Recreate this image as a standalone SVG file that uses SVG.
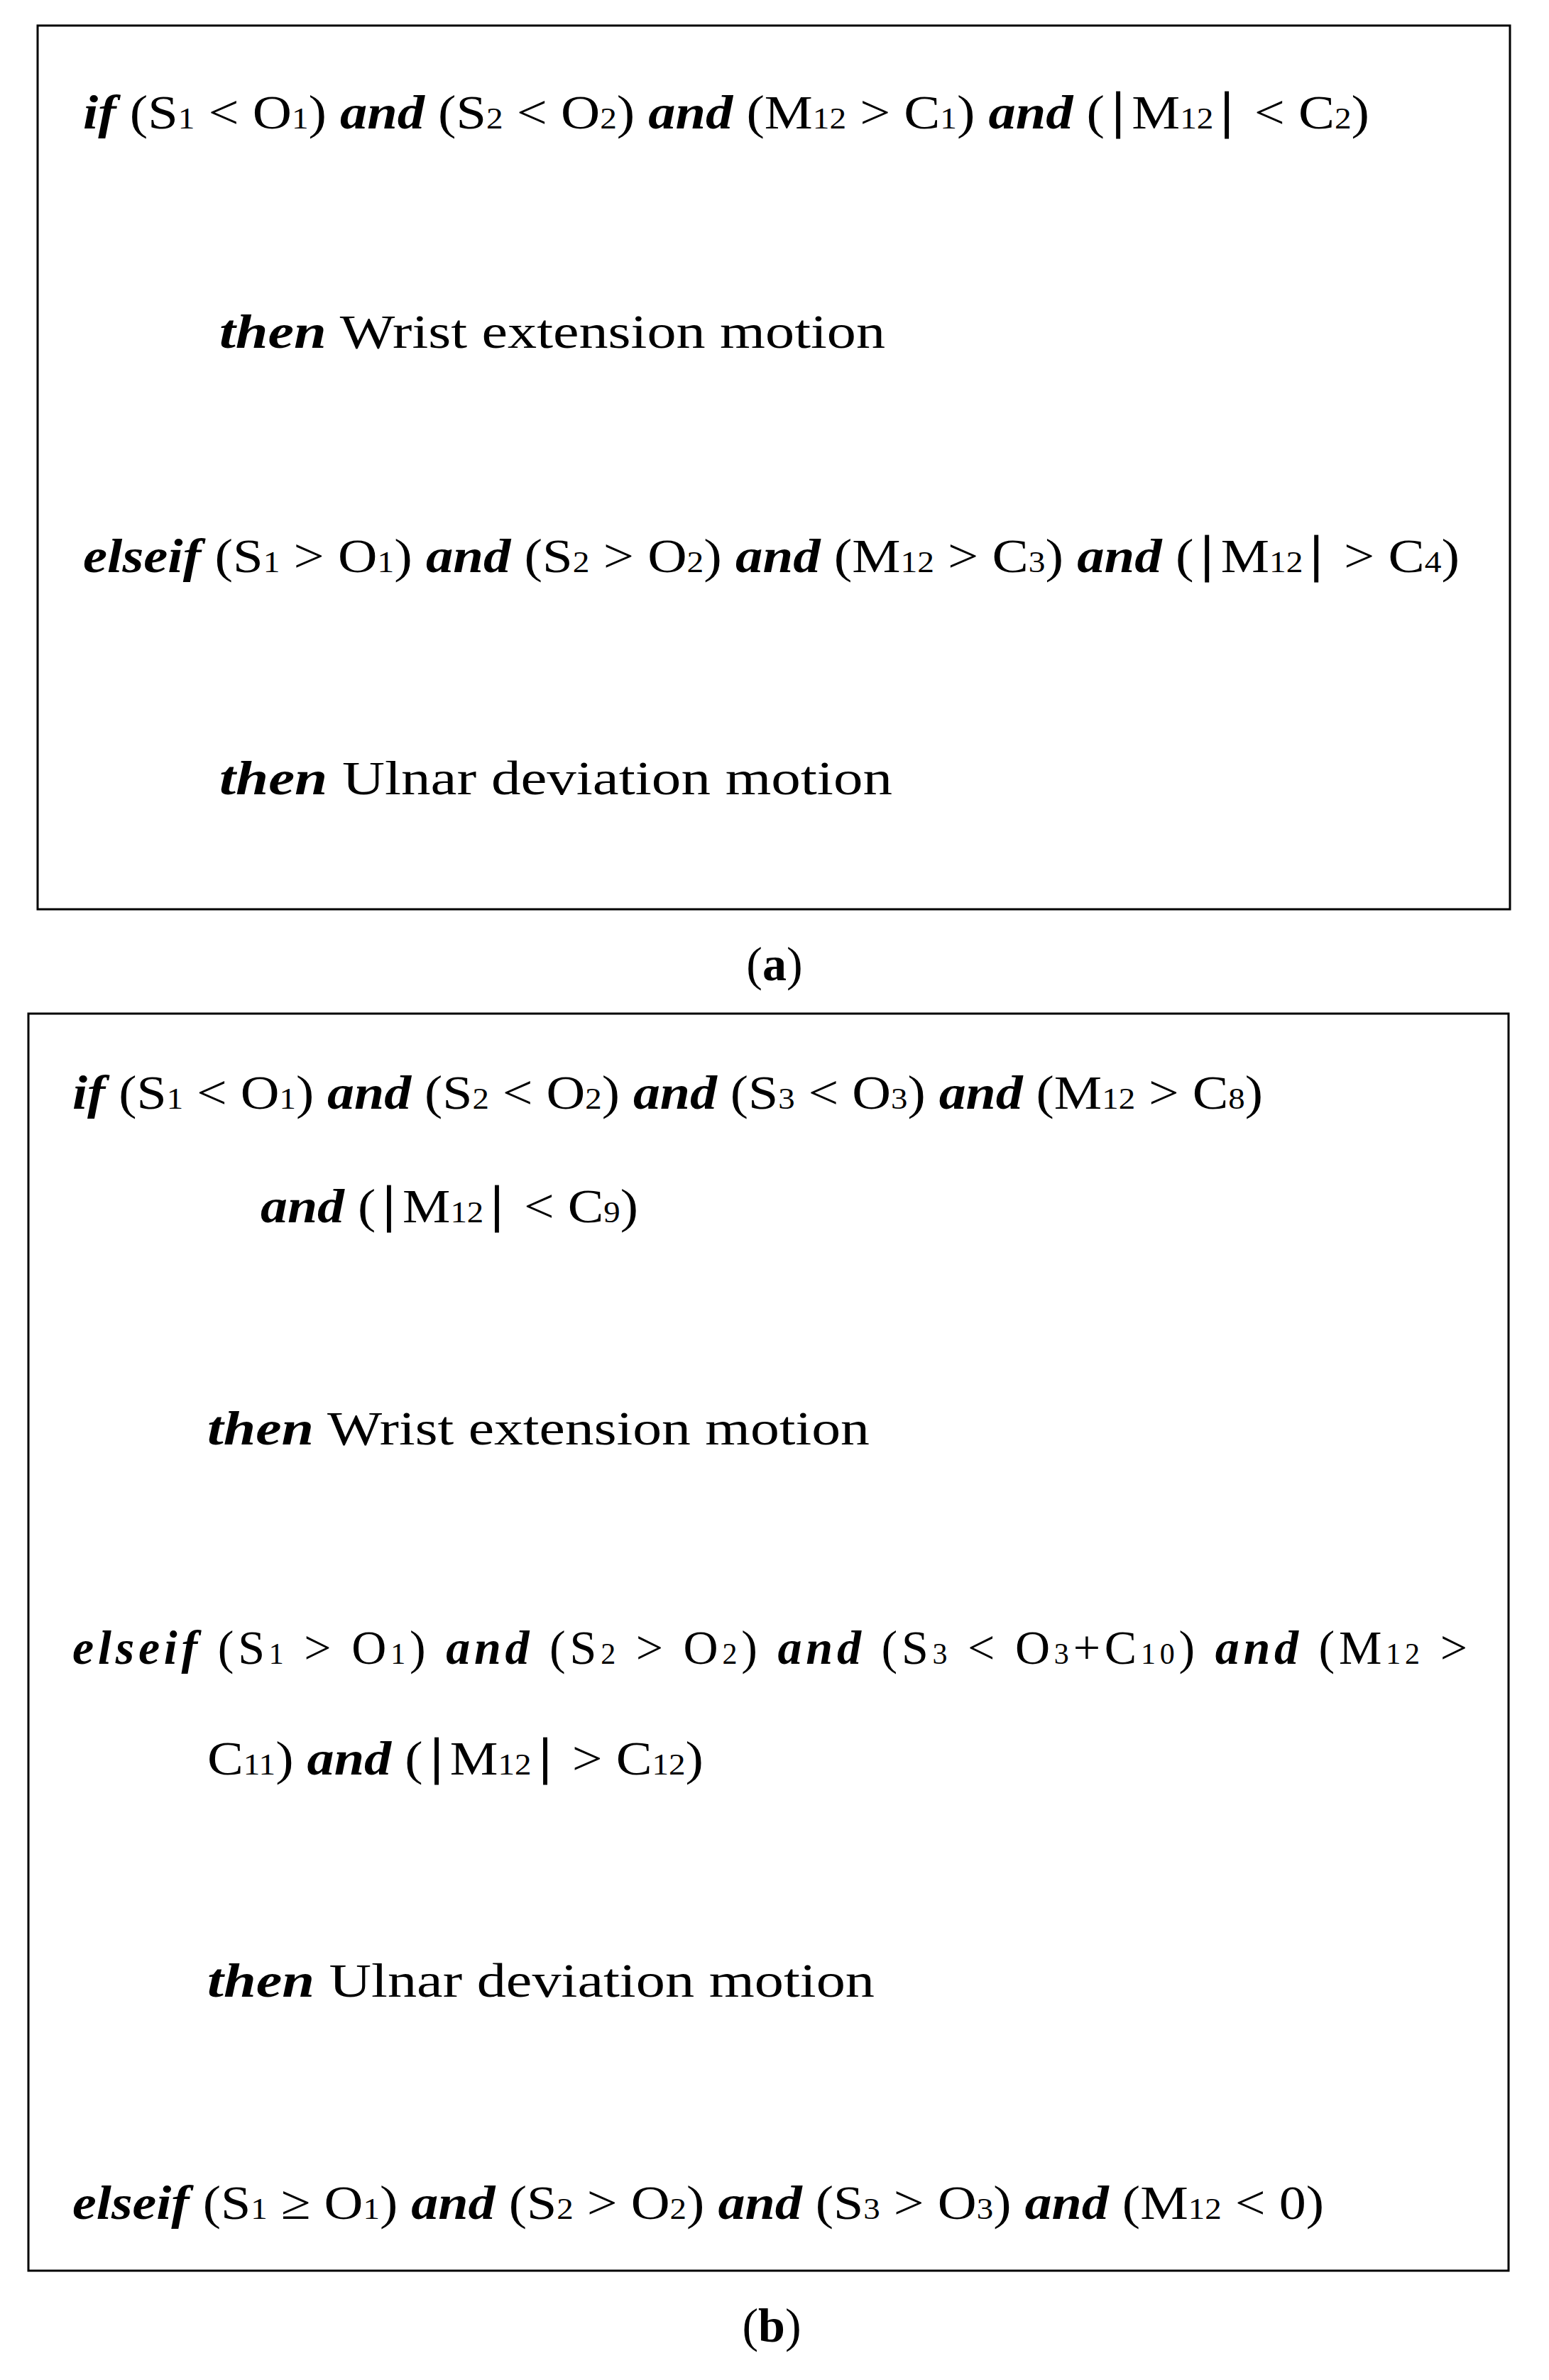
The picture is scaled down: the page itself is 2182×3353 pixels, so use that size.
<svg xmlns="http://www.w3.org/2000/svg" width="2182" height="3353" viewBox="0 0 2182 3353">
<style>
.t{font-family:"Liberation Serif",serif;font-size:68px;fill:#000}
.k{font-weight:bold;font-style:italic}
.s{font-size:42px}
.box{fill:#fff;stroke:#000;stroke-width:3}
</style>
<rect width="2182" height="3353" fill="#fff"/>
<g id="boxA">
<rect class="box" x="53" y="36" width="2074" height="1245"/>
<text class="t" x="117" y="181" textLength="1812" lengthAdjust="spacingAndGlyphs"><tspan class="k">if</tspan> (S<tspan class="s">1</tspan> &lt; O<tspan class="s">1</tspan>) <tspan class="k">and</tspan> (S<tspan class="s">2</tspan> &lt; O<tspan class="s">2</tspan>) <tspan class="k">and</tspan> (M<tspan class="s">12</tspan> &gt; C<tspan class="s">1</tspan>) <tspan class="k">and</tspan> (∣M<tspan class="s">12</tspan>∣ &lt; C<tspan class="s">2</tspan>)</text>
<text class="t" x="309" y="490" textLength="938" lengthAdjust="spacingAndGlyphs"><tspan class="k">then</tspan> Wrist extension motion</text>
<text class="t" x="117" y="806" textLength="1939" lengthAdjust="spacingAndGlyphs"><tspan class="k">elseif</tspan> (S<tspan class="s">1</tspan> &gt; O<tspan class="s">1</tspan>) <tspan class="k">and</tspan> (S<tspan class="s">2</tspan> &gt; O<tspan class="s">2</tspan>) <tspan class="k">and</tspan> (M<tspan class="s">12</tspan> &gt; C<tspan class="s">3</tspan>) <tspan class="k">and</tspan> (∣M<tspan class="s">12</tspan>∣ &gt; C<tspan class="s">4</tspan>)</text>
<text class="t" x="309" y="1119" textLength="948" lengthAdjust="spacingAndGlyphs"><tspan class="k">then</tspan> Ulnar deviation motion</text>
</g>
<text class="t" x="1091" y="1381" text-anchor="middle">(<tspan font-weight="bold">a</tspan>)</text>
<g id="boxB">
<rect class="box" x="40" y="1428" width="2085" height="1771"/>
<text class="t" x="102" y="1562" textLength="1677" lengthAdjust="spacingAndGlyphs"><tspan class="k">if</tspan> (S<tspan class="s">1</tspan> &lt; O<tspan class="s">1</tspan>) <tspan class="k">and</tspan> (S<tspan class="s">2</tspan> &lt; O<tspan class="s">2</tspan>) <tspan class="k">and</tspan> (S<tspan class="s">3</tspan> &lt; O<tspan class="s">3</tspan>) <tspan class="k">and</tspan> (M<tspan class="s">12</tspan> &gt; C<tspan class="s">8</tspan>)</text>
<text class="t" x="367" y="1722" textLength="532" lengthAdjust="spacingAndGlyphs"><tspan class="k">and</tspan> (∣M<tspan class="s">12</tspan>∣ &lt; C<tspan class="s">9</tspan>)</text>
<text class="t" x="292" y="2035" textLength="933" lengthAdjust="spacingAndGlyphs"><tspan class="k">then</tspan> Wrist extension motion</text>
<text class="t" x="102" y="2344" textLength="1965" lengthAdjust="spacing"><tspan class="k">elseif</tspan> (S<tspan class="s">1</tspan> &gt; O<tspan class="s">1</tspan>) <tspan class="k">and</tspan> (S<tspan class="s">2</tspan> &gt; O<tspan class="s">2</tspan>) <tspan class="k">and</tspan> (S<tspan class="s">3</tspan> &lt; O<tspan class="s">3</tspan>+C<tspan class="s">10</tspan>) <tspan class="k">and</tspan> (M<tspan class="s">12</tspan> &gt;</text>
<text class="t" x="292" y="2500" textLength="699" lengthAdjust="spacingAndGlyphs">C<tspan class="s">11</tspan>) <tspan class="k">and</tspan> (∣M<tspan class="s">12</tspan>∣ &gt; C<tspan class="s">12</tspan>)</text>
<text class="t" x="292" y="2813" textLength="940" lengthAdjust="spacingAndGlyphs"><tspan class="k">then</tspan> Ulnar deviation motion</text>
<text class="t" x="102" y="3126" textLength="1763" lengthAdjust="spacingAndGlyphs"><tspan class="k">elseif</tspan> (S<tspan class="s">1</tspan> ≥ O<tspan class="s">1</tspan>) <tspan class="k">and</tspan> (S<tspan class="s">2</tspan> &gt; O<tspan class="s">2</tspan>) <tspan class="k">and</tspan> (S<tspan class="s">3</tspan> &gt; O<tspan class="s">3</tspan>) <tspan class="k">and</tspan> (M<tspan class="s">12</tspan> &lt; 0)</text>
</g>
<text class="t" x="1087" y="3299" text-anchor="middle">(<tspan font-weight="bold">b</tspan>)</text>
</svg>
